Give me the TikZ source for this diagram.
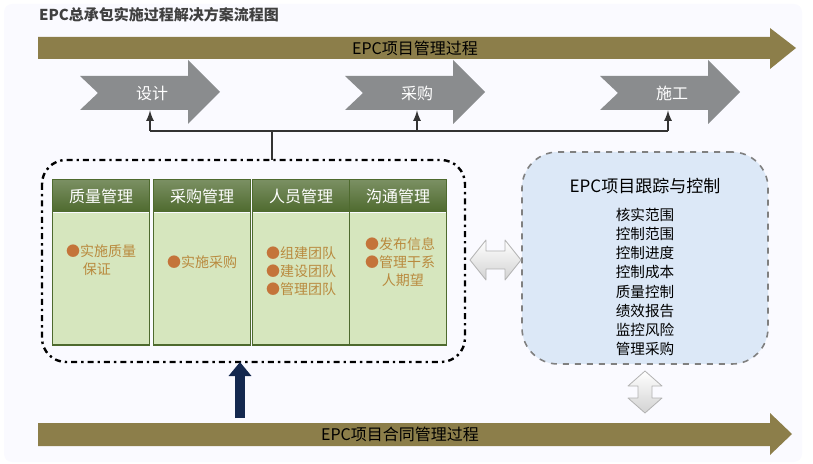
\documentclass[tikz,border=0pt]{standalone}
\usepackage{fontspec}
\setmainfont{Noto Sans CJK SC}
\usetikzlibrary{positioning,arrows.meta}
\definecolor{olive}{HTML}{8C7E4A}
\definecolor{chev}{HTML}{8A8C8E}
\definecolor{hdr}{HTML}{4E6A2E}
\definecolor{cell}{HTML}{D6E6BE}
\definecolor{bul}{HTML}{C4743A}
\definecolor{btxt}{HTML}{B98A3E}
\definecolor{ctrl}{HTML}{DCE8F7}
\definecolor{navy}{HTML}{14284F}
\begin{document}
\begin{tikzpicture}[x=0.5pt,y=-0.5pt,
  big/.style={fill=olive,draw=none},
  chevron/.style={fill=chev,draw=none},
  head/.style={minimum width=48pt,minimum height=16pt,inner sep=0pt,
    top color=hdr!75,bottom color=hdr,text=white,font=\fontsize{8}{9}\selectfont},
  body/.style={fill=cell,minimum width=48pt,minimum height=66pt,inner sep=0pt},
  item/.style={text=btxt,font=\fontsize{7}{9}\selectfont,align=left},
  ctrlitem/.style={font=\fontsize{7.3}{9.6}\selectfont,align=center},
  dbl/.style={top color=white,bottom color=gray!35,draw=gray!60,line join=round}]

  \useasboundingbox (0,0) rectangle (813,464);
  \fill[blue!2,rounded corners=4pt] (4,4) rectangle (802,462);

  \node[anchor=west,font=\bfseries\fontsize{7.5}{8}\selectfont,text=black!75] (title) at (32,15) {EPC总承包实施过程解决方案流程图};

  % top process arrow
  \fill[big] (38,37) -- (770,37) -- (770,28) -- (796,48) -- (770,69) -- (770,59) -- (38,59) -- cycle;
  \node[font=\fontsize{8}{9}\selectfont] (mgmt) at (415,48) {EPC项目管理过程};

  % stages
  \foreach \x/\n/\t in {80/sj/设计,345/cg/采购,600/sg/施工}{
    \fill[chevron] (\x,76) -- (\x+108,76) -- (\x+108,60) -- (\x+140,92) -- (\x+108,124) -- (\x+108,110)
      -- (\x,110) -- (\x+18,93) -- cycle;
    \node[text=white,minimum height=17pt,inner sep=0pt,font=\fontsize{8}{9}\selectfont] (\n) at (\x+72,93) {\t};
  }

  \coordinate (jl) at (150,131);
  \coordinate (jm) at (272,131);
  \coordinate (jr) at (668,131);
  \draw[thick,black!80] (jl) -- (jr);
  \draw[thick,black!80,-latex] (jl) -- (jl |- sj.south);
  \draw[thick,black!80,-latex] (jm -| cg) -- (cg.south);
  \draw[thick,black!80,-latex] (jr) -- (jr |- sg.south);

  % management group
  \draw[very thick,dash dot,rounded corners=12pt] (42,160) rectangle (465,362);
  \draw[thick,black!80] (jm) -- (272,160);

  \foreach \x/\n/\t in {101/zl/质量管理,202/cgm/采购管理,301/ry/人员管理,398/gt/沟通管理}{
    \node[head] (h\n) at (\x,196) {\t};
    \node[body,below=0pt of h\n] (b\n) {};
    \draw[hdr,thick] (h\n.north west) rectangle (b\n.south east);
  }
  \node[item] at (101,260) {\textcolor{bul}{●}实施质量\\\hspace{1.2em}保证};
  \node[item] at (202,262) {\textcolor{bul}{●}实施采购};
  \node[item] at (301,271) {\textcolor{bul}{●}组建团队\\\textcolor{bul}{●}建设团队\\\textcolor{bul}{●}管理团队};
  \node[item] at (400,262) {\textcolor{bul}{●}发布信息\\\textcolor{bul}{●}管理干系\\\hspace{1.2em}人期望};

  % tracking and control
  \node[draw=gray,dashed,thick,fill=ctrl,rounded corners=18pt,minimum width=123pt,minimum height=106pt] (ctrl) at (645,258) {};
  \node[font=\fontsize{8.5}{10}\selectfont] (ctitle) at (645,186) {EPC项目跟踪与控制};
  \node[ctrlitem,below=0pt of ctitle] (citems) {核实范围\\控制范围\\控制进度\\控制成本\\质量控制\\绩效报告\\监控风险\\管理采购};

  \draw[dbl] (470,260) -- (486,240) -- (486,251) -- (505,251) -- (505,240) -- (521,260)
    -- (505,280) -- (505,269) -- (486,269) -- (486,280) -- cycle;
  \draw[dbl] (645,371) -- (662,386) -- (652,386) -- (652,398) -- (662,398) -- (645,413)
    -- (628,398) -- (638,398) -- (638,386) -- (628,386) -- cycle;

  % contract arrow
  \fill[big] (38,423) -- (770,423) -- (770,413) -- (792,434) -- (770,455) -- (770,446) -- (38,446) -- cycle;
  \node[font=\fontsize{8}{9}\selectfont] (contract) at (400,434) {EPC项目合同管理过程};

  \coordinate (up) at (240,418);
  \draw[navy,line width=5pt,-{Triangle[width=11pt,length=7pt]}] (up) -- (240,362);
\end{tikzpicture}
\end{document}
